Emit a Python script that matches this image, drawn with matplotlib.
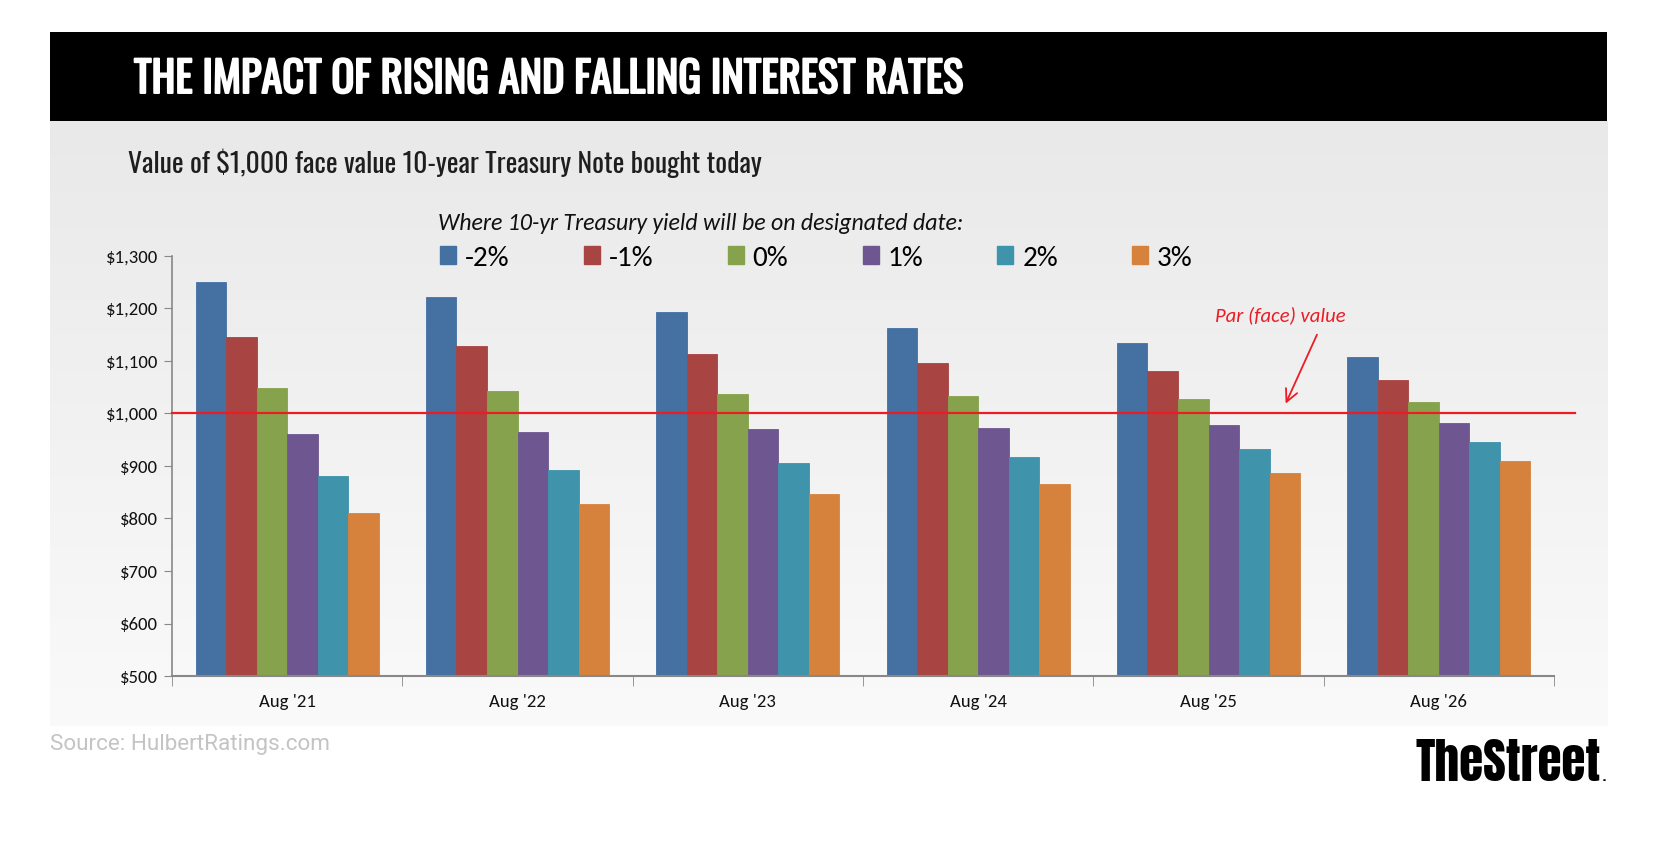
import numpy as np
import matplotlib
matplotlib.use('Agg')
import matplotlib.pyplot as plt
import matplotlib.patheffects as pe
from matplotlib import font_manager
from matplotlib.patches import Rectangle, Patch
from matplotlib.colors import LinearSegmentedColormap

# --- dados ---
dates = ["Aug '21", "Aug '22", "Aug '23", "Aug '24", "Aug '25", "Aug '26"]
yield_labels = ['-2%', '-1%', '0%', '1%', '2%', '3%']
val_m2 = [1251, 1222, 1193, 1162, 1135, 1107]
val_m1 = [1146, 1128, 1113, 1096, 1080, 1064]
val_0 = [1049, 1042, 1038, 1034, 1027, 1021]
val_p1 = [960, 965, 970, 972, 979, 982]
val_p2 = [880, 892, 905, 917, 932, 945]
val_p3 = [810, 828, 847, 865, 887, 909]
par_value = 1000
y_ticks = [500, 600, 700, 800, 900, 1000, 1100, 1200, 1300]

series = [val_m2, val_m1, val_0, val_p1, val_p2, val_p3]
colors = ['#4470a2', '#a84442', '#86a24c', '#6e5790', '#3f93ab', '#d6823c']

# fontes (com alternativas caso alguma não exista)
avail = {f.name for f in font_manager.fontManager.ttflist}
def pick(*names):
    for n in names:
        if n in avail:
            return n
    return 'DejaVu Sans'

f_title = pick('Oswald', 'Fjalla One', 'Roboto Condensed', 'DejaVu Sans')
f_sub = pick('Oswald', 'Roboto Condensed', 'DejaVu Sans')
f_calibri = pick('Carlito', 'Open Sans', 'Liberation Sans', 'DejaVu Sans')
f_logo = pick('Anton', 'League Gothic', 'Bebas Neue', 'DejaVu Sans')
f_source = pick('Roboto', 'Open Sans', 'DejaVu Sans')
plt.rcParams['font.family'] = [f_calibri, 'DejaVu Sans']

W, H = 1654, 846
fig = plt.figure(figsize=(W / 100, H / 100), dpi=100)
fig.patch.set_facecolor('white')
renderer = fig.canvas.get_renderer()

def fx(x):
    return x / W

def fy(y):
    return 1 - y / H

def fit_width(t, target):
    # ajusta o tamanho da fonte para a largura vista na referência
    w = t.get_window_extent(renderer=renderer).width
    t.set_fontsize(t.get_fontsize() * target / w)

# fundo cinza em degradê
bg = fig.add_axes([fx(50), fy(726), fx(1607 - 50), (726 - 121) / H])
cmap = LinearSegmentedColormap.from_list('bg', ['#e9e9e9', '#fafafa'])
bg.imshow(np.linspace(0, 1, 256).reshape(-1, 1), cmap=cmap, aspect='auto')
bg.axis('off')
bg.set_zorder(0)

# faixa preta do título
fig.patches.append(Rectangle((fx(50), fy(121)), fx(1607 - 50), (121 - 32) / H,
                             transform=fig.transFigure, facecolor='black',
                             edgecolor='none', zorder=1))
t = fig.text(fx(134), fy(93), 'THE IMPACT OF RISING AND FALLING INTEREST RATES',
             family=f_title, fontweight='bold', fontsize=30, color='white',
             va='baseline', ha='left', zorder=2,
             path_effects=[pe.withStroke(linewidth=1.4, foreground='white')])
fit_width(t, 830)

t = fig.text(fx(128), fy(173), 'Value of $1,000 face value 10-year Treasury Note bought today',
             family=f_sub, fontweight='light', fontsize=20, color='#1e1e1e',
             va='baseline', ha='left')
fit_width(t, 634)

t = fig.text(fx(438), fy(230), 'Where 10-yr Treasury yield will be on designated date:',
             family=f_calibri, fontstyle='italic', fontsize=18, color='#111111',
             va='baseline', ha='left')
fit_width(t, 527)

# eixo do gráfico
ax = fig.add_axes([fx(172), fy(676), fx(1554 - 172), (676 - 256) / H])
ax.set_facecolor('none')
ax.set_zorder(2)

x = np.arange(len(dates))
bw = 0.1325
for i, (vals, c) in enumerate(zip(series, colors)):
    ax.bar(x + (i - 2.5) * bw, np.array(vals) - 500, bw, bottom=500,
           color=c, edgecolor=c, linewidth=0.6, label=yield_labels[i], zorder=2)

ax.set_xlim(-0.5, len(dates) - 0.5)
ax.set_ylim(500, 1300)
ax.set_yticks(y_ticks)
ax.set_yticklabels([f'${v:,}' for v in y_ticks])
ax.set_xticks(x)
ax.set_xticklabels(dates)
ax.set_xticks(np.arange(-0.5, len(dates)), minor=True)
ax.tick_params(axis='x', which='major', length=0, pad=13, labelsize=13.5, labelcolor='#111111')
ax.tick_params(axis='x', which='minor', length=7, color='#888888', direction='out')
ax.tick_params(axis='y', length=6, color='#888888', labelsize=13.5, labelcolor='#111111', pad=4)

for s in ['top', 'right']:
    ax.spines[s].set_visible(False)
ax.spines['left'].set_color('#888888')
ax.spines['bottom'].set_color('#888888')
ax.spines['left'].set_linewidth(1.2)
ax.spines['bottom'].set_linewidth(1.5)

# linha do valor de face
ax.axhline(par_value, xmin=0, xmax=1.015, color='#ec1c24', linewidth=1.6,
           clip_on=False, zorder=3)
t = fig.text(fx(1280), fy(321), 'Par (face) value', color='#ec1c24', fontstyle='italic',
             family=f_calibri, fontsize=15, ha='center', va='baseline')
fit_width(t, 131)
ax.annotate('', xy=(4.33, par_value + 14), xytext=(4.476, 1155),
            arrowprops=dict(arrowstyle='->', color='#ec1c24', lw=1.3,
                            mutation_scale=22))

# legenda
handles = [Patch(facecolor=c, edgecolor=c) for c in colors]
fig.legend(handles, yield_labels, ncol=6, loc='center left',
           bbox_to_anchor=(fx(440), fy(258)), frameon=False,
           prop={'family': f_calibri, 'size': 21}, handlelength=0.55,
           handleheight=0.55, handletextpad=0.3, columnspacing=2.55,
           borderpad=0, borderaxespad=0)

# rodapé
t = fig.text(fx(50), fy(750), 'Source: HulbertRatings.com', color='#c4c4c4',
             fontsize=15, family=f_source, va='baseline', ha='left')
fit_width(t, 281)
t = fig.text(fx(1416), fy(781), 'TheStreet', family=f_logo, fontweight='bold',
             fontsize=33, color='black', va='baseline', ha='left')
fit_width(t, 186)
fig.text(fx(1603), fy(781), '.', family=f_logo, fontsize=9, color='black',
         va='baseline', ha='left')

fig.savefig('out.png', dpi=100, facecolor='white')
